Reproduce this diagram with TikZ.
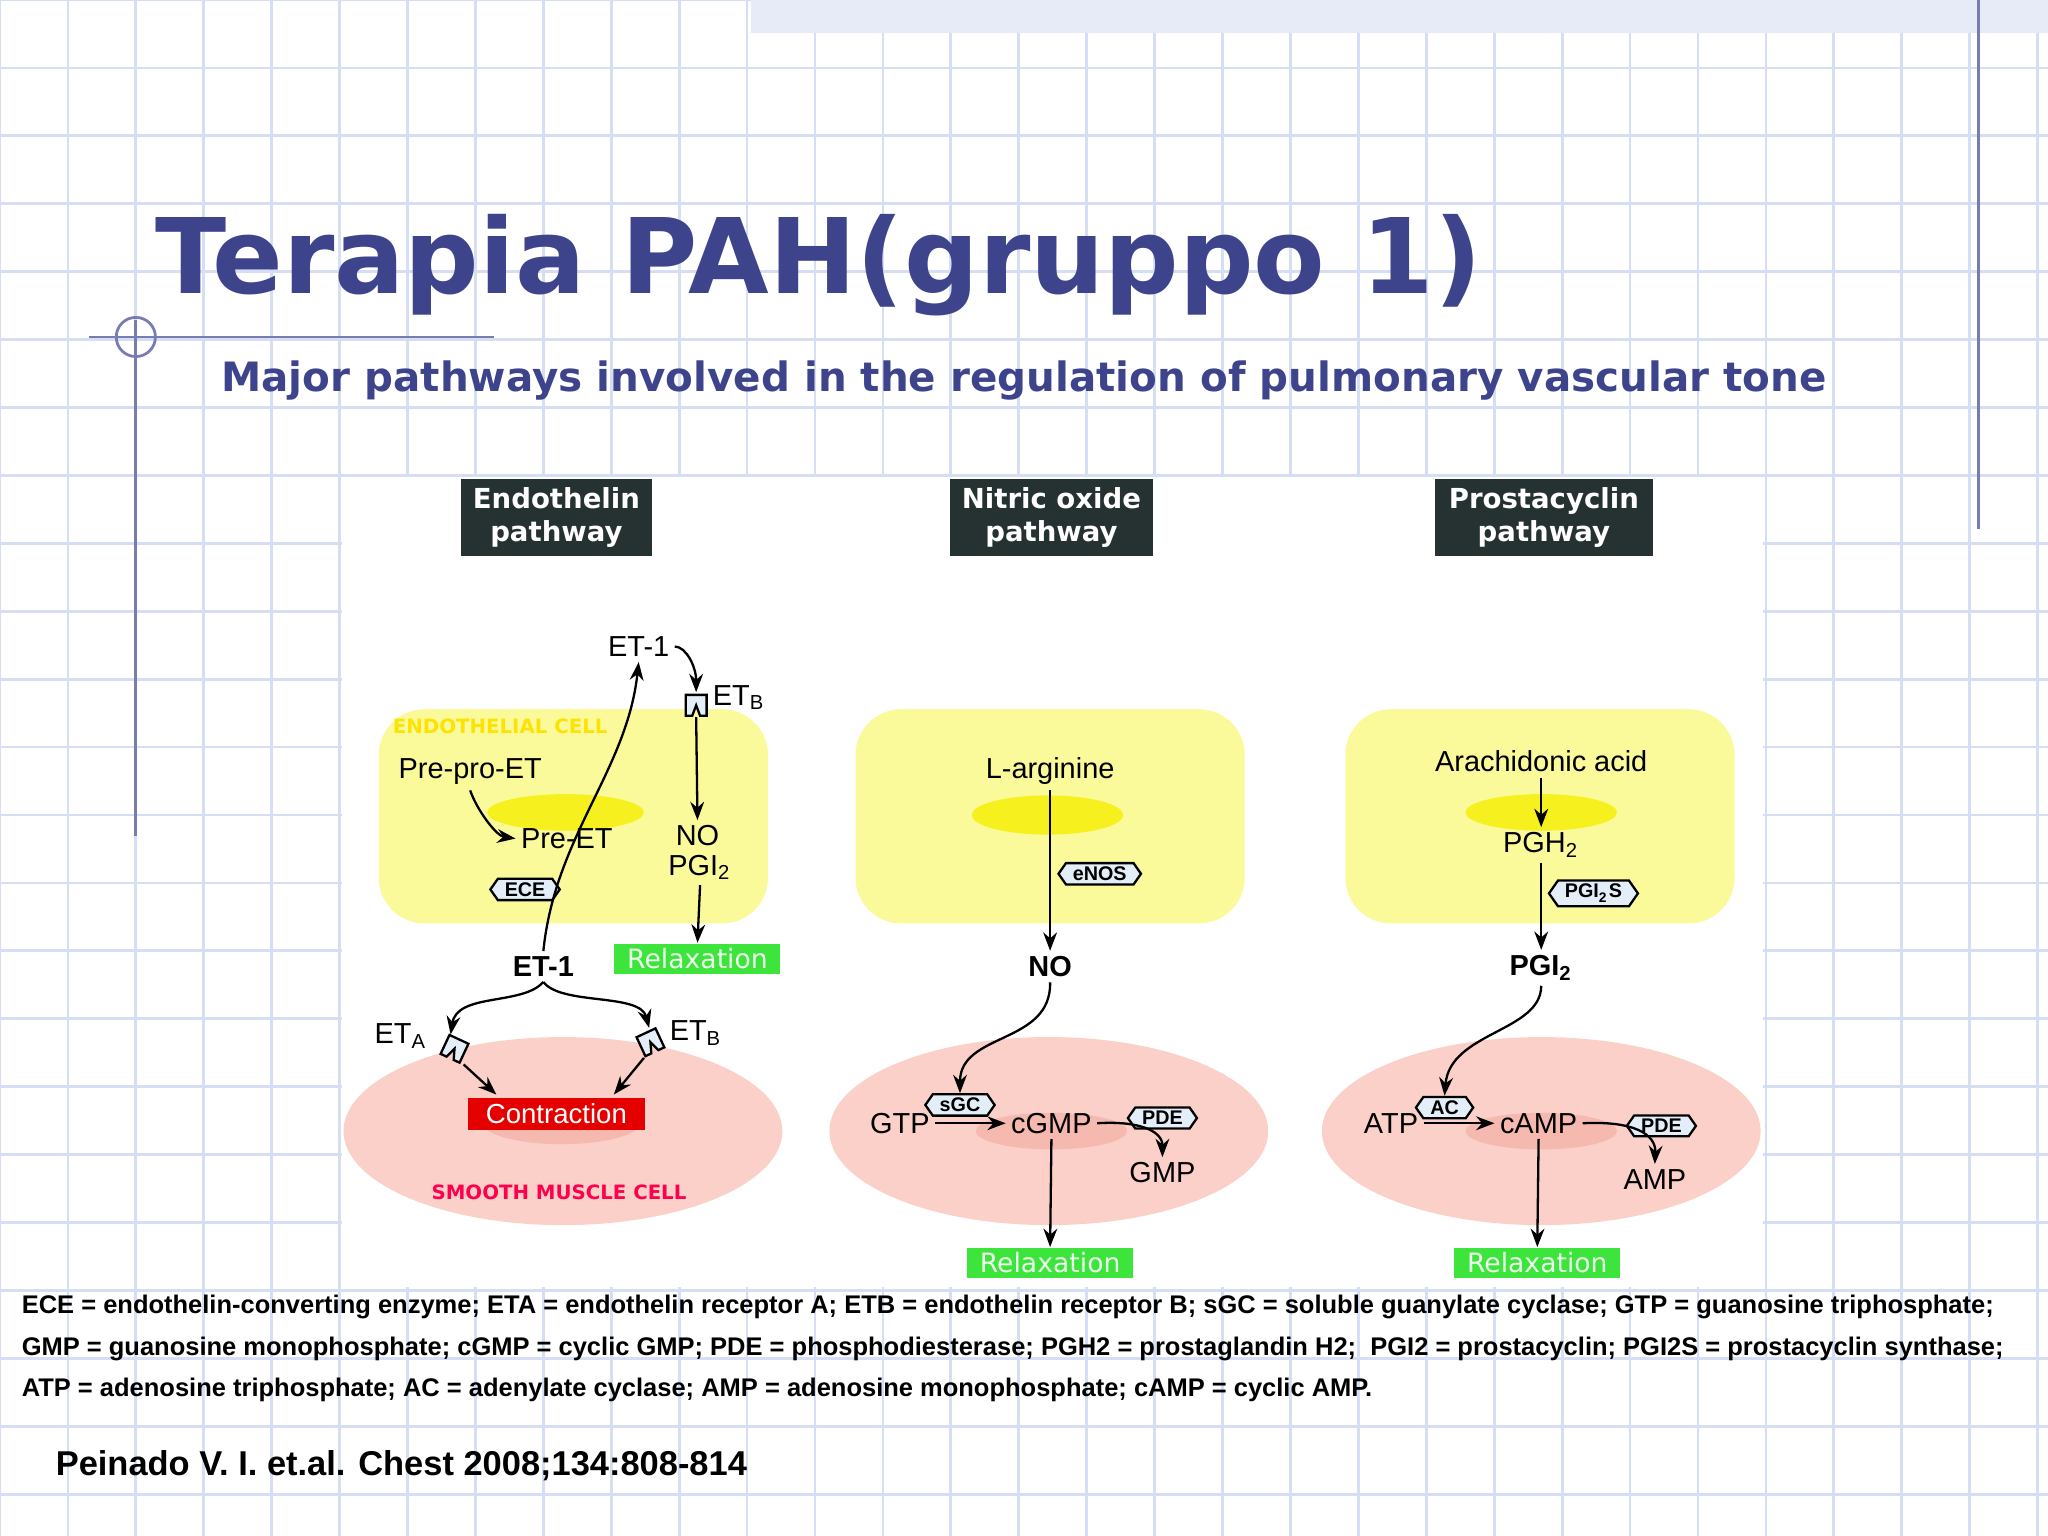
\documentclass[tikz,border=0pt]{standalone}
\usepackage{fontspec}
\setmainfont{DejaVu Sans}
\newfontfamily\arialf{Liberation Sans}
\usetikzlibrary{shapes.symbols,shapes.geometric,arrows.meta}
\definecolor{titleblue}{RGB}{62,68,140}
\definecolor{gridblue}{RGB}{214,222,244}
\definecolor{cellyellow}{RGB}{250,250,155}
\definecolor{coreyellow}{RGB}{246,240,30}
\definecolor{cellpink}{RGB}{250,208,200}
\definecolor{corepink}{RGB}{246,185,175}
\definecolor{boxdark}{RGB}{38,50,50}
\definecolor{relgreen}{RGB}{60,228,60}
\definecolor{hexfill}{RGB}{228,238,248}
\tikzset{
  lbl/.style={font=\fontsize{6.3}{7}\selectfont\arialf, inner sep=1pt},
  blbl/.style={font=\fontsize{6.3}{7}\selectfont\arialf\bfseries, inner sep=1pt},
  head/.style={fill=boxdark, text=white, align=center, minimum width=1.46cm, minimum height=0.59cm,
    font=\fontsize{6}{7.2}\selectfont\bfseries, inner sep=1pt},
  relax/.style={fill=relgreen, text=white!92!green, minimum width=1.27cm, minimum height=0.23cm,
    font=\fontsize{5.8}{6}\selectfont, inner sep=0pt},
  enz/.style={signal, signal to=west and east, draw=black, fill=hexfill, line width=0.5pt,
    font=\fontsize{4.3}{5}\selectfont\arialf\bfseries, inner xsep=1.5pt, inner ysep=0.8pt, signal pointer angle=110},
  arr/.style={-{Stealth[length=4pt,width=3pt]}, line width=0.5pt},
}
\newcommand{\receptor}[3]{%
  \draw[fill=hexfill, line width=0.5pt, shift={(#1,#2)}, rotate=#3]
    (-8,-8) -- (-8,8) -- (-3,8) -- (0,0) -- (3,8) -- (8,8) -- (8,-8) -- cycle;}
\begin{document}
\begin{tikzpicture}[x=0.01cm, y=-0.01cm]
\useasboundingbox (0,0) rectangle (1568,1176);
\fill[white] (0,0) rectangle (1568,1176);
% grid
\foreach \gx in {0,52,...,1568} \draw[gridblue, line width=0.6pt] (\gx,0) -- (\gx,1176);
\foreach \gy in {0,52,...,1176} \draw[gridblue, line width=0.6pt] (0,\gy) -- (1568,\gy);
\fill[gridblue!60] (575,0) rectangle (1568,25);
\draw[titleblue!70, line width=0.6pt] (1515,0) -- (1515,405);
\draw[titleblue!70, line width=0.6pt] (104,245) -- (104,640);
\draw[titleblue!70, line width=0.6pt] (68,258) -- (378,258);
\draw[titleblue!70, line width=0.6pt] (104,258) circle (15);
% titles
\node[anchor=base west, text=titleblue, font=\fontsize{22.7}{26}\selectfont\bfseries, inner sep=0pt] (title) at (118,225) {Terapia PAH(gruppo 1)};
\node[text=titleblue, font=\fontsize{8.8}{10}\selectfont\bfseries, inner sep=0pt] (subtitle) at (784,291) {Major pathways involved in the regulation of pulmonary vascular tone};
% figure panel
\fill[white] (262,365) rectangle (1350,985);
\node[head] (hendo) at (426,396) {Endothelin\\pathway};
\node[head, minimum width=1.55cm] (hno) at (805,396) {Nitric oxide\\pathway};
\node[head, minimum width=1.67cm] (hpgi) at (1182,396) {Prostacyclin\\pathway};
% cells
\foreach \cx/\px in {439/431,804/803,1179/1180} {
  \fill[cellyellow, rounded corners=0.35cm] (\cx-149,543) rectangle (\cx+149,707);
  \fill[cellpink] (\px,866) ellipse (168 and 72);
}
\fill[coreyellow] (433,622) ellipse (60 and 14);
\fill[coreyellow] (802,624) ellipse (58 and 15);
\fill[coreyellow] (1180,622) ellipse (58 and 14);
\fill[corepink] (430,860) ellipse (60 and 16);
\fill[corepink] (805,866) ellipse (58 and 14);
\fill[corepink] (1180,866) ellipse (58 and 14);
% endothelin pathway
\node[font=\fontsize{4.3}{5}\selectfont\bfseries, text=yellow!85!orange] (ecell) at (383,556) {ENDOTHELIAL CELL};
\node[font=\fontsize{4.3}{5}\selectfont\bfseries, text=red!70!magenta] (smc) at (428,913) {SMOOTH MUSCLE CELL};
\node[lbl] (etop) at (489,495) {ET-1};
\node[lbl] (prepro) at (360,591) {Pre-pro-ET};
\node[lbl] (preet) at (434,642) {Pre-ET};
\node[enz] (ece) at (402,681) {ECE};
\node[blbl] (etone) at (416,740) {ET-1};
\node[lbl] (no1) at (534,640) {NO};
\node[lbl] (pgi1) at (536,664) {PGI\textsubscript{2}};
\node[relax] (relax1) at (534,734) {Relaxation};
\node[fill=red!90!black, text=white, minimum width=1.36cm, minimum height=0.24cm, inner sep=0pt,
  font=\fontsize{6}{7}\selectfont\arialf] (contr) at (426,853) {Contraction};
\receptor{533}{540}{0}
\node[lbl] at (566,534) {ET\textsubscript{B}};
\receptor{348}{803}{-25}
\node[lbl] at (307,793) {ET\textsubscript{A}};
\receptor{498}{798}{25}
\node[lbl] at (533,791) {ET\textsubscript{B}};
\draw[arr] (etone.north) .. controls (425,640) and (480,590) .. (etop.south);
\draw[arr] (etop.east) .. controls (525,495) and (533,510) .. (533,530);
\draw[arr] (533,549) -- (no1.north);
\draw[arr] (pgi1.south) -- (relax1.north);
\draw[arr] (prepro.south) .. controls (365,620) and (380,640) .. (preet.west);
\draw[arr] (etone.south) .. controls (400,770) and (350,760) .. (345,792);
\draw[arr] (etone.south) .. controls (430,770) and (490,760) .. (497,787);
\draw[arr] (355,815) -- (380,838);
\draw[arr] (493,810) -- (470,838);
% nitric oxide pathway
\node[lbl] (larg) at (804,590) {L-arginine};
\node[enz] (enos) at (842,669) {eNOS};
\node[blbl] (no2) at (804,740) {NO};
\node[enz] (sgc) at (735,846) {sGC};
\node[lbl] (gtp) at (689,860) {GTP};
\node[lbl] (cgmp) at (805,860) {cGMP};
\node[enz] (pde1) at (890,856) {PDE};
\node[lbl] (gmp) at (890,898) {GMP};
\node[relax] (relax2) at (804,967) {Relaxation};
\draw[arr] (larg.south) -- (no2.north);
\draw[arr] (no2.south) .. controls (805,800) and (735,790) .. (sgc.north);
\draw[arr] (gtp.east) -- (cgmp.west);
\draw[arr] (cgmp.east) .. controls (870,858) and (890,865) .. (gmp.north);
\draw[arr] (cgmp.south) -- (relax2.north);
% prostacyclin pathway
\node[lbl] (arach) at (1180,583) {Arachidonic acid};
\node[lbl] (pgh) at (1180,647) {PGH\textsubscript{2}};
\node[enz] (pgis) at (1220,684) {PGI\textsubscript{2}S};
\node[blbl] (pgi2) at (1180,741) {PGI\textsubscript{2}};
\node[enz] (ac) at (1106,848) {AC};
\node[lbl] (atp) at (1065,860) {ATP};
\node[lbl] (camp) at (1178,860) {cAMP};
\node[enz] (pde2) at (1272,862) {PDE};
\node[lbl] (amp) at (1267,903) {AMP};
\node[relax] (relax3) at (1177,967) {Relaxation};
\draw[arr] (arach.south) -- (pgh.north);
\draw[arr] (pgh.south) -- (pgi2.north);
\draw[arr] (pgi2.south) .. controls (1180,790) and (1110,790) .. (ac.north);
\draw[arr] (atp.east) -- (camp.west);
\draw[arr] (camp.east) .. controls (1250,858) and (1268,868) .. (amp.north);
\draw[arr] (camp.south) -- (relax3.north);
% footnote
\node[anchor=west, font=\fontsize{5.55}{6}\selectfont\arialf\bfseries, inner sep=0pt] (fn1) at (16,1001) {ECE = endothelin-converting enzyme; ETA = endothelin receptor A; ETB = endothelin receptor B; sGC = soluble guanylate cyclase; GTP = guanosine triphosphate;};
\node[anchor=west, font=\fontsize{5.55}{6}\selectfont\arialf\bfseries, inner sep=0pt] (fn2) at (16,1033) {GMP = guanosine monophosphate; cGMP = cyclic GMP; PDE = phosphodiesterase; PGH2 = prostaglandin H2;\ \ PGI2 = prostacyclin; PGI2S = prostacyclin synthase;};
\node[anchor=west, font=\fontsize{5.55}{6}\selectfont\arialf\bfseries, inner sep=0pt] (fn3) at (16,1064) {ATP = adenosine triphosphate; AC = adenylate cyclase; AMP = adenosine monophosphate; cAMP = cyclic AMP.};
\node[anchor=west, font=\fontsize{7.5}{8}\selectfont\arialf\bfseries, inner sep=0pt] (cite) at (42,1122) {Peinado V. I. et.al. Chest 2008;134:808-814};
\end{tikzpicture}
\end{document}
